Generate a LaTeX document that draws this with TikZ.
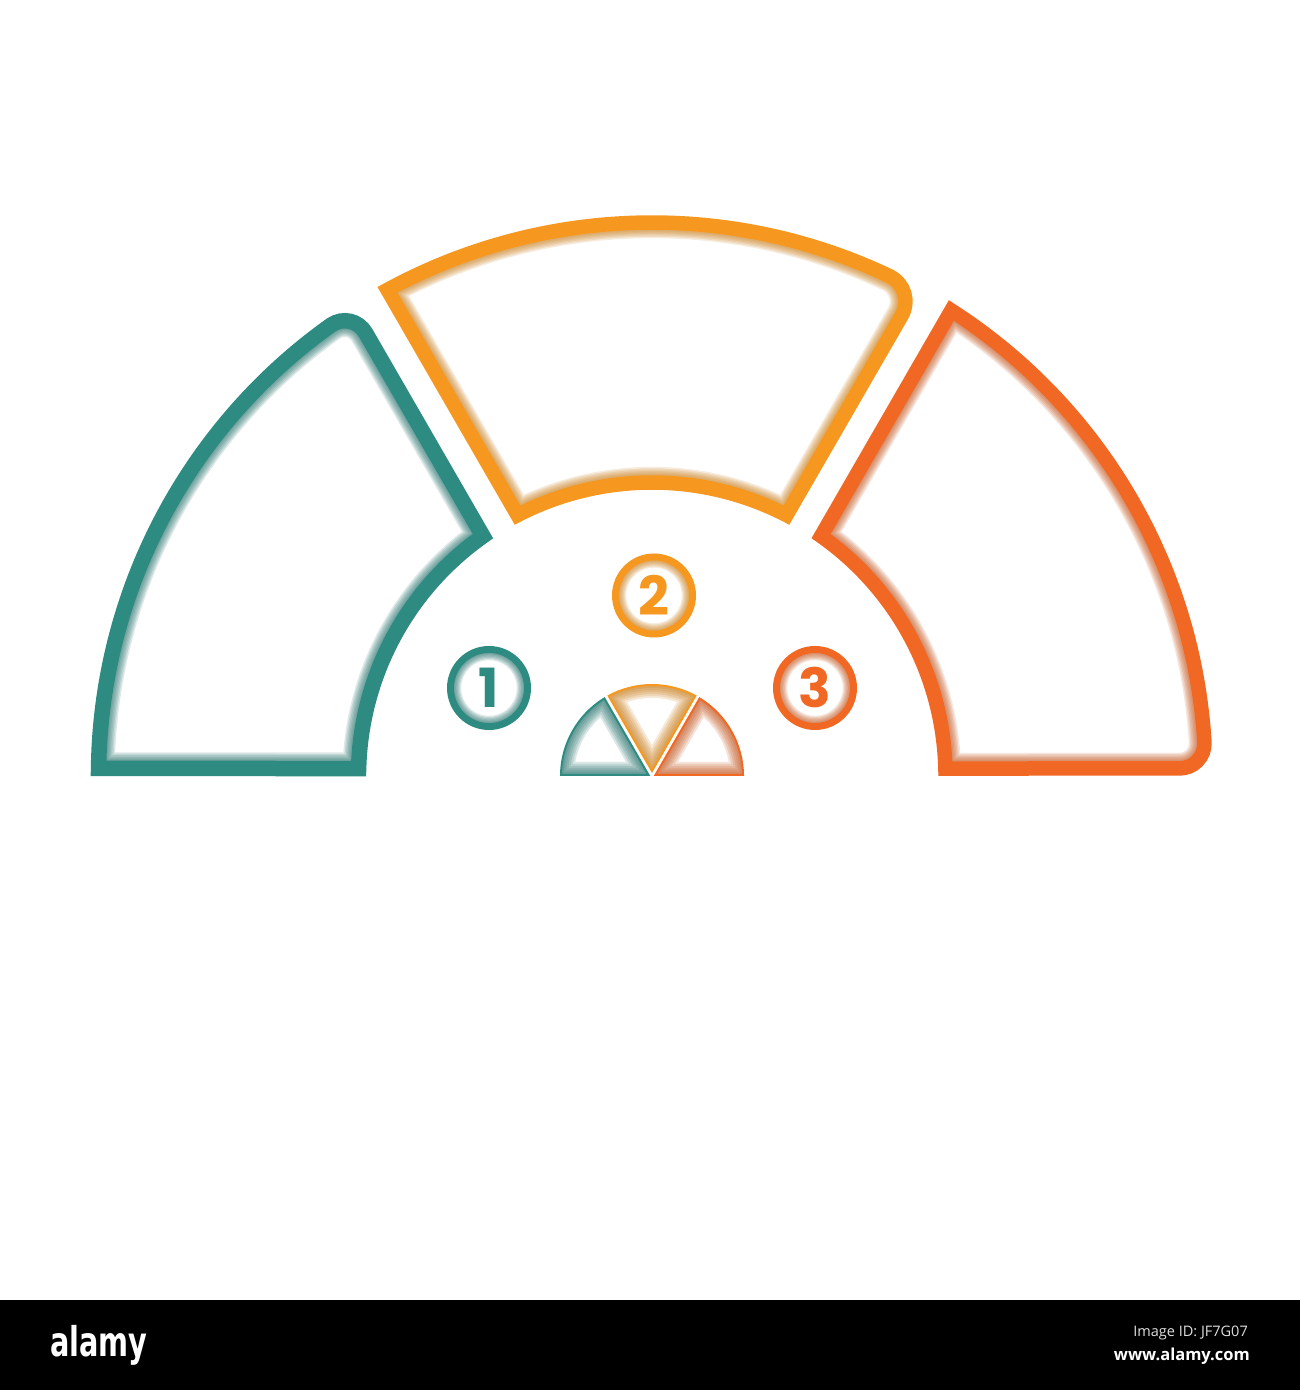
\documentclass[tikz,border=0pt]{standalone}
\usepackage{fontspec}
\usetikzlibrary{calc}
\newfontfamily\numfont{Poppins}
\newfontfamily\logofont{DejaVu Sans Condensed}
\newfontfamily\barfont{Open Sans}
\definecolor{teal1}{RGB}{45,139,130}
\definecolor{orng}{RGB}{246,152,31}
\definecolor{redo}{RGB}{240,104,35}
\newcommand\glowshape[5]{% path, colour, stroke, step, opacity
  \begin{scope}
    \clip #1;
    \foreach \k in {1,...,6}{\draw[#2!82!black, opacity=#5, line width={#3+2*\k*#4}] #1;}
  \end{scope}
  \draw[#2, line width=#3] #1;}
\begin{document}
\begin{tikzpicture}[x=1pt,y=1pt,line join=miter]
\useasboundingbox (0,0) rectangle (1300,1390);
\fill[white] (0,0) rectangle (1300,1390);
\coordinate (C) at (652,614);
\begin{scope}[shift={(652,614)}]
  % teal sector
  \coordinate (tA) at (179.22:553.5pt);
  \coordinate (tK) at (122.74:553.5pt);
  \coordinate (tP) at (125.43:553.5pt);
  \coordinate (tT) at (125.18:293.5pt);
  \coordinate (tK2) at ($(tK)!26pt!(tT)$);
  % orange sector
  \coordinate (oA) at (118.55:553.5pt);
  \coordinate (oK) at (61.45:553.5pt);
  \coordinate (oP) at (64.55:553.5pt);
  \coordinate (oT) at (62.73:293.5pt);
  \coordinate (oK2) at ($(oK)!30pt!(oT)$);
  % red sector
  \coordinate (rA) at (57.26:553.5pt);
  \coordinate (rK) at (0.78:553.5pt);
  \coordinate (rP) at (3.47:553.5pt);
  \coordinate (rB) at (1.46:293.5pt);
  \coordinate (rK2) at ($(rK)!26pt!(rB)$);
  \glowshape{(tA) arc[start angle=179.22, end angle=125.43, radius=553.5pt] .. controls ($(tP)!0.55!(tK)$) and ($(tK2)!0.55!(tK)$) .. (tK2) -- (tT) arc[start angle=125.18, end angle=178.54, radius=293.5pt] -- cycle}{teal1}{15.5pt}{1.4pt}{0.15}
  \glowshape{(oA) arc[start angle=118.55, end angle=64.55, radius=553.5pt] .. controls ($(oP)!0.55!(oK)$) and ($(oK2)!0.55!(oK)$) .. (oK2) -- (oT) arc[start angle=62.73, end angle=117.27, radius=293.5pt] -- cycle}{orng}{14.5pt}{1.4pt}{0.15}
  \glowshape{(rA) arc[start angle=57.26, end angle=3.47, radius=553.5pt] .. controls ($(rP)!0.55!(rK)$) and ($(rK2)!0.55!(rK)$) .. (rK2) -- (rB) arc[start angle=1.46, end angle=54.82, radius=293.5pt] -- cycle}{redo}{14.5pt}{1.4pt}{0.15}
  % small pie
  \glowshape{(-3.46,1) -- (121.57:91pt) arc[start angle=121.57, end angle=179.37, radius=91pt] -- cycle}{teal1}{2pt}{2pt}{0.17}
  \glowshape{(0,5) -- (61.57:91pt) arc[start angle=61.57, end angle=118.43, radius=91pt] -- cycle}{orng}{2pt}{2pt}{0.17}
  \glowshape{(3.46,1) -- (0.63:91pt) arc[start angle=0.63, end angle=58.43, radius=91pt] -- cycle}{redo}{2pt}{2pt}{0.17}
\end{scope}
% number badges
\glowshape{(489,702) circle[radius=38.5pt]}{teal1}{7pt}{1.2pt}{0.15}
\glowshape{(654,794.5) circle[radius=38.5pt]}{orng}{7pt}{1.2pt}{0.15}
\glowshape{(815,702) circle[radius=38.5pt]}{redo}{7pt}{1.2pt}{0.15}
\node[text=teal1, inner sep=0] (n1) at (489,702) {\numfont\bfseries\fontsize{54}{54}\selectfont 1};
\node[text=orng, inner sep=0] (n2) at (654,794.5) {\numfont\bfseries\fontsize{54}{54}\selectfont 2};
\node[text=redo, inner sep=0] (n3) at (815,702) {\numfont\bfseries\fontsize{54}{54}\selectfont 3};
% bottom bar
\fill[black] (0,0) rectangle (1300,90);
\node[anchor=base west, text=white, inner sep=0] (logo) at (50,34) {\scalebox{0.78}[1]{\logofont\bfseries\fontsize{41}{41}\selectfont alamy}};
\node[anchor=base east, text=white!88!black, inner sep=0] (imgid) at (1248,53) {\barfont\fontsize{14.5}{14.5}\selectfont Image ID: JF7G07};
\node[anchor=base east, text=white, inner sep=0] (url) at (1250,29) {\barfont\bfseries\fontsize{16.5}{16.5}\selectfont www.alamy.com};
\end{tikzpicture}
\end{document}
